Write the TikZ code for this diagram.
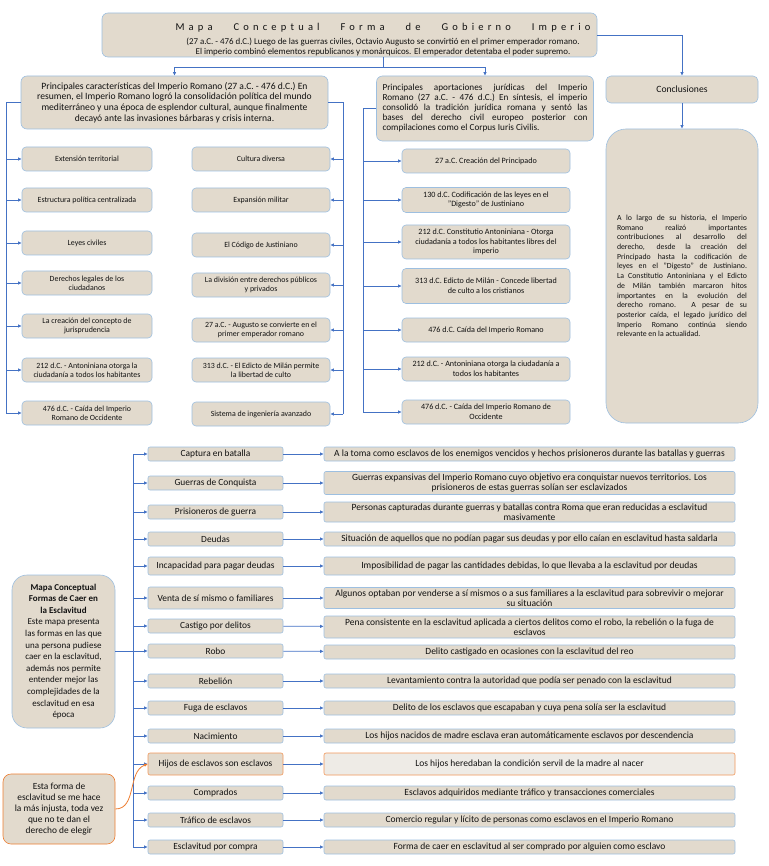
\documentclass[tikz,border=0pt]{standalone}
\usepackage{fontspec}
\setmainfont{Carlito}
\newfontfamily\spacedfont[LetterSpace=40]{Carlito}
\usetikzlibrary{arrows.meta}
\definecolor{cPaper}  {HTML}{E2DACD}
\definecolor{cPaperLt}{HTML}{EEEBE6}
\definecolor{cEdge}   {HTML}{9DBFE0}
\definecolor{cLink}   {HTML}{4472C4}
\definecolor{cOrange} {HTML}{ED7D31}
\definecolor{cText}   {HTML}{111111}

\begin{document}
\begin{tikzpicture}[
  x=1pt, y=-1pt,
  text=cText,
  box/.style={
    rounded corners=4pt, draw=cEdge, fill=cPaper, line width=0.6pt,
    align=center, inner sep=2pt},
  head/.style  ={box, font=\fontsize{9.6}{10.7}\selectfont},
  item/.style  ={box, font=\fontsize{7.9}{9.4}\selectfont, minimum height=24pt},
  litem/.style ={item, minimum width=130pt},
  ritem/.style ={item, minimum width=138pt},
  aitem/.style ={item, font=\fontsize{8.1}{9.6}\selectfont, minimum width=168pt},
  cause/.style ={box, font=\fontsize{9.4}{10}\selectfont, rounded corners=2pt,
    minimum width=135pt, minimum height=14pt, inner sep=1pt},
  desc/.style  ={box, font=\fontsize{9.5}{10}\selectfont, rounded corners=2pt,
    minimum width=411pt, minimum height=14pt, inner sep=1pt},
  hilite/.style={draw=cOrange!80},
  ln/.style    ={draw=cLink, line width=0.8pt},
  ar/.style    ={ln, -{Latex[length=3.5pt,width=3.5pt]}},
  arO/.style   ={draw=cOrange, line width=0.8pt, -{Latex[length=3.5pt,width=3.5pt]}},
]
\useasboundingbox (0,0) rectangle (768,866);

% ---------------------------------------------------------------- title
\node[box, minimum width=495pt, minimum height=44pt, rounded corners=6pt] (title) at (349.5,35) {};
\node[align=center, font=\fontsize{8.9}{9.8}\selectfont] (titletxt) at (383,39.5)
  {\makebox[415pt][s]{\fontsize{10.5}{12}\spacedfont Mapa Conceptual Forma de Gobierno Imperio}\\[5pt]
   (27 a.C. - 476 d.C.) Luego de las guerras civiles, Octavio Augusto se convirtió en el primer emperador romano.\\
   El imperio combinó elementos republicanos y monárquicos. El emperador detentaba el poder supremo.};

% ---------------------------------------------------------------- three heads
\node[head, minimum width=307pt, minimum height=53pt, rounded corners=6pt] (carac) at (174.5,102.5)
  {Principales características del Imperio Romano (27 a.C. - 476 d.C.) En\\
   resumen, el Imperio Romano logró la consolidación política del mundo\\
   mediterráneo y una época de esplendor cultural, aunque finalmente\\
   decayó ante las invasiones bárbaras y crisis interna.};
\node[head, minimum width=217pt, minimum height=65pt, text width=205pt, align=justify,
  font=\fontsize{9.2}{10}\selectfont, rounded corners=6pt] (aport) at (485,108.5)
  {Principales aportaciones jurídicas del Imperio\linebreak
   Romano (27 a.C. - 476 d.C.) En síntesis, el imperio\linebreak
   consolidó la tradición jurídica romana y sentó las\linebreak
   bases del derecho civil europeo posterior con\linebreak
   compilaciones como el Corpus Iuris Civilis.};
\node[head, minimum width=152pt, minimum height=27pt, rounded corners=5pt] (concl) at (682,89.5) {Conclusiones};
\node[box, minimum width=152pt, minimum height=294pt, rounded corners=20pt, text width=130pt,
  align=justify, font=\fontsize{7.8}{9.7}\selectfont] (conclbig) at (682,276)
  {A lo largo de su historia, el Imperio\linebreak
   Romano realizó importantes\linebreak
   contribuciones al desarrollo del\linebreak
   derecho, desde la creación del\linebreak
   Principado hasta la codificación de\linebreak
   leyes en el "Digesto" de Justiniano.\linebreak
   La Constitutio Antoniniana y el Edicto\linebreak
   de Milán también marcaron hitos\linebreak
   importantes en la evolución del\linebreak
   derecho romano. A pesar de su\linebreak
   posterior caída, el legado jurídico del\linebreak
   Imperio Romano continúa siendo\linebreak
   relevante en la actualidad.};

% ---------------------------------------------------------------- features, two columns
\node[litem] (e1) at (87,159) {Extensión territorial};
\node[litem] (e2) at (87,200) {Estructura política centralizada};
\node[litem] (e3) at (87,243) {Leyes civiles};
\node[litem] (e4) at (87,283) {Derechos legales de los\\ciudadanos};
\node[litem] (e5) at (87,326) {La creación del concepto de\\jurisprudencia};
\node[litem] (e6) at (87,370) {212 d.C. - Antoniniana otorga la\\ciudadanía a todos los habitantes};
\node[litem] (e7) at (87,413) {476 d.C. - Caída del Imperio\\Romano de Occidente};

\node[ritem] (r1) at (261,159) {Cultura diversa};
\node[ritem] (r2) at (261,200) {Expansión militar};
\node[ritem] (r3) at (261,245) {El Código de Justiniano};
\node[ritem] (r4) at (261,285) {La división entre derechos públicos\\y privados};
\node[ritem] (r5) at (261,330) {27 a.C. - Augusto se convierte en el\\primer emperador romano};
\node[ritem] (r6) at (261,370) {313 d.C. - El Edicto de Milán permite\\la libertad de culto};
\node[ritem] (r7) at (261,414) {Sistema de ingeniería avanzado};

% ---------------------------------------------------------------- legal milestones
\node[aitem] (a1) at (486,161) {27 a.C. Creación del Principado};
\node[aitem, minimum height=25pt] (a2) at (486,200) {130 d.C. Codificación de las leyes en el\\"Digesto" de Justiniano};
\node[aitem, minimum height=34pt] (a3) at (486,242) {212 d.C. Constitutio Antoniniana - Otorga\\ciudadanía a todos los habitantes libres del\\imperio};
\node[aitem, minimum height=35pt] (a4) at (486,286) {313 d.C. Edicto de Milán - Concede libertad\\de culto a los cristianos};
\node[aitem] (a5) at (486,330) {476 d.C. Caída del Imperio Romano};
\node[aitem] (a6) at (486,369) {212 d.C. - Antoniniana otorga la ciudadanía a\\todos los habitantes};
\node[aitem] (a7) at (486,412) {476 d.C. - Caída del Imperio Romano de\\Occidente};

% ---------------------------------------------------------------- slavery map
\node[box, minimum width=103pt, minimum height=153pt, rounded corners=15pt,
  font=\fontsize{9}{11.6}\selectfont] (formas) at (63.5,651.5)
  {\textbf{Mapa Conceptual}\\\textbf{Formas de Caer en}\\\textbf{la Esclavitud}\\
   Este mapa presenta\\las formas en las que\\una persona pudiese\\caer en la esclavitud,\\
   además nos permite\\entender mejor las\\complejidades de la\\esclavitud en esa\\época};
\node[box, draw=cOrange, minimum width=112pt, minimum height=70pt, rounded corners=8pt,
  font=\fontsize{9.4}{11.2}\selectfont] (opinion) at (59,809)
  {Esta forma de\\esclavitud se me hace\\la más injusta, toda vez\\que no te dan el\\derecho de elegir};

\node[cause] (c1) at (215.5,454) {Captura en batalla};
\node[cause] (c2) at (215.5,483) {Guerras de Conquista};
\node[cause] (c3) at (215.5,512) {Prisioneros de guerra};
\node[cause] (c4) at (215.5,539) {Deudas};
\node[cause, minimum height=18pt] (c5) at (215.5,566) {Incapacidad para pagar deudas};
\node[cause, minimum height=22pt] (c6) at (215.5,598) {Venta de sí mismo o familiares};
\node[cause] (c7) at (215.5,626) {Castigo por delitos};
\node[cause] (c8) at (215.5,651) {Robo};
\node[cause] (c9) at (215.5,681) {Rebelión};
\node[cause] (c10) at (215.5,708) {Fuga de esclavos};
\node[cause] (c11) at (215.5,736) {Nacimiento};
\node[cause, hilite, minimum height=22pt] (c12) at (215.5,764) {Hijos de esclavos son esclavos};
\node[cause] (c13) at (215.5,793) {Comprados};
\node[cause] (c14) at (215.5,820) {Tráfico de esclavos};
\node[cause] (c15) at (215.5,847) {Esclavitud por compra};

\node[desc] (d1) at (529.5,454) {A la toma como esclavos de los enemigos vencidos y hechos prisioneros durante las batallas y guerras};
\node[desc, minimum height=23pt] (d2) at (529.5,483) {Guerras expansivas del Imperio Romano cuyo objetivo era conquistar nuevos territorios. Los\\prisioneros de estas guerras solían ser esclavizados};
\node[desc, minimum height=20pt] (d3) at (529.5,512) {Personas capturadas durante guerras y batallas contra Roma que eran reducidas a esclavitud\\masivamente};
\node[desc] (d4) at (529.5,539) {Situación de aquellos que no podían pagar sus deudas y por ello caían en esclavitud hasta saldarla};
\node[desc, minimum height=18pt] (d5) at (529.5,566) {Imposibilidad de pagar las cantidades debidas, lo que llevaba a la esclavitud por deudas};
\node[desc, minimum height=21pt] (d6) at (529.5,598) {Algunos optaban por venderse a sí mismos o a sus familiares a la esclavitud para sobrevivir o mejorar\\su situación};
\node[desc, minimum height=22pt] (d7) at (529.5,627) {Pena consistente en la esclavitud aplicada a ciertos delitos como el robo, la rebelión o la fuga de\\esclavos};
\node[desc] (d8) at (529.5,652) {Delito castigado en ocasiones con la esclavitud del reo};
\node[desc] (d9) at (529.5,681) {Levantamiento contra la autoridad que podía ser penado con la esclavitud};
\node[desc] (d10) at (529.5,708) {Delito de los esclavos que escapaban y cuya pena solía ser la esclavitud};
\node[desc] (d11) at (529.5,736) {Los hijos nacidos de madre esclava eran automáticamente esclavos por descendencia};
\node[desc, hilite, fill=cPaperLt, minimum height=22pt] (d12) at (529.5,764) {Los hijos heredaban la condición servil de la madre al nacer};
\node[desc] (d13) at (529.5,793) {Esclavos adquiridos mediante tráfico y transacciones comerciales};
\node[desc] (d14) at (529.5,820) {Comercio regular y lícito de personas como esclavos en el Imperio Romano};
\node[desc] (d15) at (529.5,847) {Forma de caer en esclavitud al ser comprado por alguien como esclavo};

% ---------------------------------------------------------------- arrows, top
\coordinate (split) at (383,67);
\coordinate (lbx) at (6,0);
\coordinate (rbx) at (343,0);
\coordinate (abx) at (363,0);
\coordinate (tk)  at (133,0);

\draw[ln] (title.south -| split) -- (split);
\draw[ar] (split) -| (carac.north);
\draw[ar] (split) -| (aport.north);
\draw[ar] (title.east) -| (concl.north);
\draw[ar] (concl) -- (conclbig);

\draw[ln] (carac.west) -| (e7.west -| lbx);
\draw[ar] (e1.west -| lbx) -- (e1.west);
\draw[ar] (e2.west -| lbx) -- (e2.west);
\draw[ar] (e3.west -| lbx) -- (e3.west);
\draw[ar] (e4.west -| lbx) -- (e4.west);
\draw[ar] (e5.west -| lbx) -- (e5.west);
\draw[ar] (e6.west -| lbx) -- (e6.west);
\draw[ar] (e7.west -| lbx) -- (e7.west);

\draw[ln] (carac.east) -| (r7.east -| rbx);
\draw[ar] (r1.east -| rbx) -- (r1.east);
\draw[ar] (r2.east -| rbx) -- (r2.east);
\draw[ar] (r3.east -| rbx) -- (r3.east);
\draw[ar] (r4.east -| rbx) -- (r4.east);
\draw[ar] (r5.east -| rbx) -- (r5.east);
\draw[ar] (r6.east -| rbx) -- (r6.east);
\draw[ar] (r7.east -| rbx) -- (r7.east);

\draw[ln] (aport.west) -| (a7.west -| abx);
\draw[ar] (a1.west -| abx) -- (a1.west);
\draw[ar] (a2.west -| abx) -- (a2.west);
\draw[ar] (a3.west -| abx) -- (a3.west);
\draw[ar] (a4.west -| abx) -- (a4.west);
\draw[ar] (a5.west -| abx) -- (a5.west);
\draw[ar] (a6.west -| abx) -- (a6.west);
\draw[ar] (a7.west -| abx) -- (a7.west);

% ---------------------------------------------------------------- arrows, slavery
\draw[ln] (c1.west -| tk) -- (c15.west -| tk);
\draw[ln] (formas.east) -- (formas.east -| tk);
\draw[ar] (c1.west -| tk) -- (c1.west);   \draw[ar] (c1) -- (d1);
\draw[ar] (c2.west -| tk) -- (c2.west);   \draw[ar] (c2) -- (d2);
\draw[ar] (c3.west -| tk) -- (c3.west);   \draw[ar] (c3) -- (d3);
\draw[ar] (c4.west -| tk) -- (c4.west);   \draw[ar] (c4) -- (d4);
\draw[ar] (c5.west -| tk) -- (c5.west);   \draw[ar] (c5) -- (d5);
\draw[ar] (c6.west -| tk) -- (c6.west);   \draw[ar] (c6) -- (d6);
\draw[ar] (c7.west -| tk) -- (c7.west);   \draw[ar] (c7) -- (d7);
\draw[ar] (c8.west -| tk) -- (c8.west);   \draw[ar] (c8) -- (d8);
\draw[ar] (c9.west -| tk) -- (c9.west);   \draw[ar] (c9) -- (d9);
\draw[ar] (c10.west -| tk) -- (c10.west); \draw[ar] (c10) -- (d10);
\draw[ar] (c11.west -| tk) -- (c11.west); \draw[ar] (c11) -- (d11);
\draw[ar] (c12.west -| tk) -- (c12.west); \draw[ar] (c12) -- (d12);
\draw[ar] (c13.west -| tk) -- (c13.west); \draw[ar] (c13) -- (d13);
\draw[ar] (c14.west -| tk) -- (c14.west); \draw[ar] (c14) -- (d14);
\draw[ar] (c15.west -| tk) -- (c15.west); \draw[ar] (c15) -- (d15);

\draw[arO] (opinion.east) to[out=0, in=200] (c12.west);

\end{tikzpicture}
\end{document}
